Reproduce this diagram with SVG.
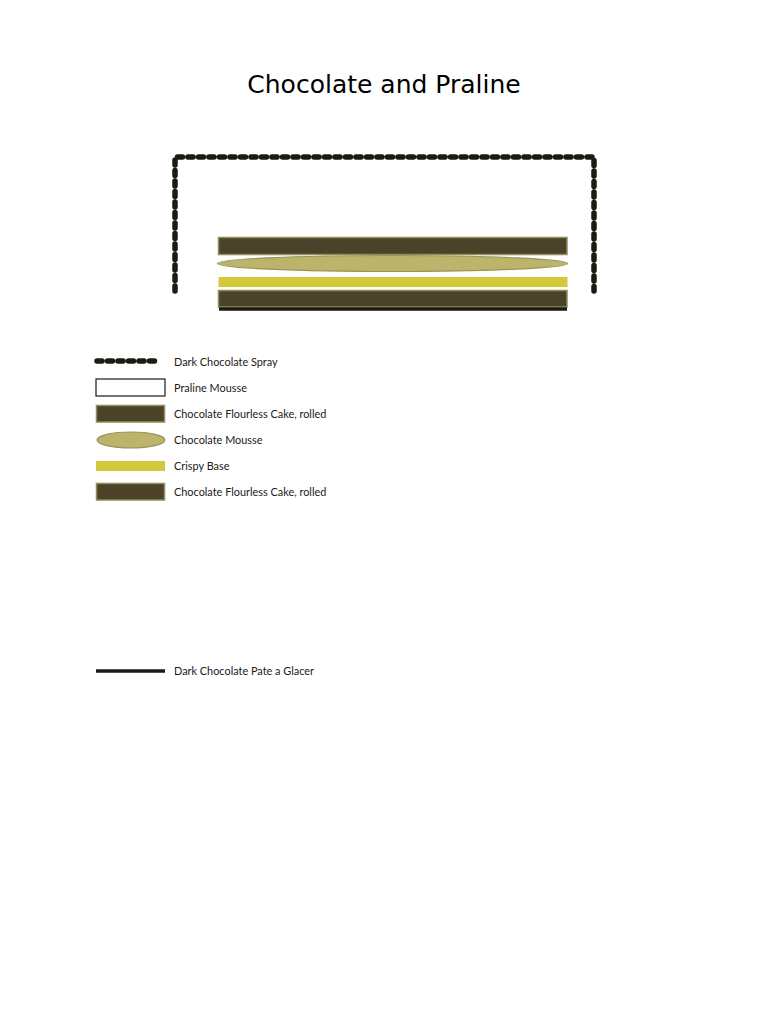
<svg xmlns="http://www.w3.org/2000/svg" width="768" height="1024" viewBox="0 0 768 1024">
<defs>
<style>
.title{font-family:"DejaVu Sans",sans-serif;font-size:25px;fill:#000}
.lbl{font-family:Lato,"Liberation Sans",sans-serif;font-size:10.9px;fill:#1a1a1a}
.spray{fill:none;stroke:#1c1a12;stroke-width:5.5;stroke-linecap:round;stroke-dasharray:5 5.5}
.cake{fill:#4a4229;stroke:#948c55;stroke-width:1.5}
.mousse{fill:#bcb46a;stroke:#9a9458;stroke-width:1.2}
.crispy{fill:#d4c83c}
.praline{fill:#fff;stroke:#1a1a1a;stroke-width:1.2}
.pate{stroke:#1c1a12;stroke-width:3.5;fill:none}
</style>
</defs>
<rect width="768" height="1024" fill="#fff"/>
<text class="title" x="384" y="93" text-anchor="middle">Chocolate and Praline</text>
<g id="cake-section">
<path class="spray" d="M175,291 V157 H594 V291"/>
<rect class="cake" x="218.5" y="237.5" width="348.5" height="17"/>
<ellipse class="mousse" cx="392.5" cy="263.5" rx="175" ry="8"/>
<rect class="crispy" x="218.5" y="277" width="349" height="10"/>
<rect class="cake" x="218.5" y="290.5" width="348.5" height="16.5"/>
<line class="pate" x1="219" y1="309" x2="567" y2="309" stroke-width="2.5"/>
</g>
<g id="legend-spray">
<line class="spray" x1="97" y1="361" x2="160" y2="361"/>
<text class="lbl" x="174" y="366">Dark Chocolate Spray</text>
</g>
<g id="legend-praline">
<rect class="praline" x="96" y="379" width="69" height="17"/>
<text class="lbl" x="174" y="392">Praline Mousse</text>
</g>
<g id="legend-cake1">
<rect class="cake" x="96.5" y="405.5" width="68" height="16.5"/>
<text class="lbl" x="174" y="418">Chocolate Flourless Cake, rolled</text>
</g>
<g id="legend-mousse">
<ellipse class="mousse" cx="131" cy="440" rx="34" ry="8"/>
<text class="lbl" x="174" y="444">Chocolate Mousse</text>
</g>
<g id="legend-crispy">
<rect class="crispy" x="96" y="461" width="69" height="10"/>
<text class="lbl" x="174" y="470">Crispy Base</text>
</g>
<g id="legend-cake2">
<rect class="cake" x="96.5" y="483.5" width="68" height="16.5"/>
<text class="lbl" x="174" y="496">Chocolate Flourless Cake, rolled</text>
</g>
<g id="legend-pate">
<line class="pate" x1="96" y1="671" x2="165" y2="671"/>
<text class="lbl" x="174" y="675">Dark Chocolate Pate a Glacer</text>
</g>
</svg>
